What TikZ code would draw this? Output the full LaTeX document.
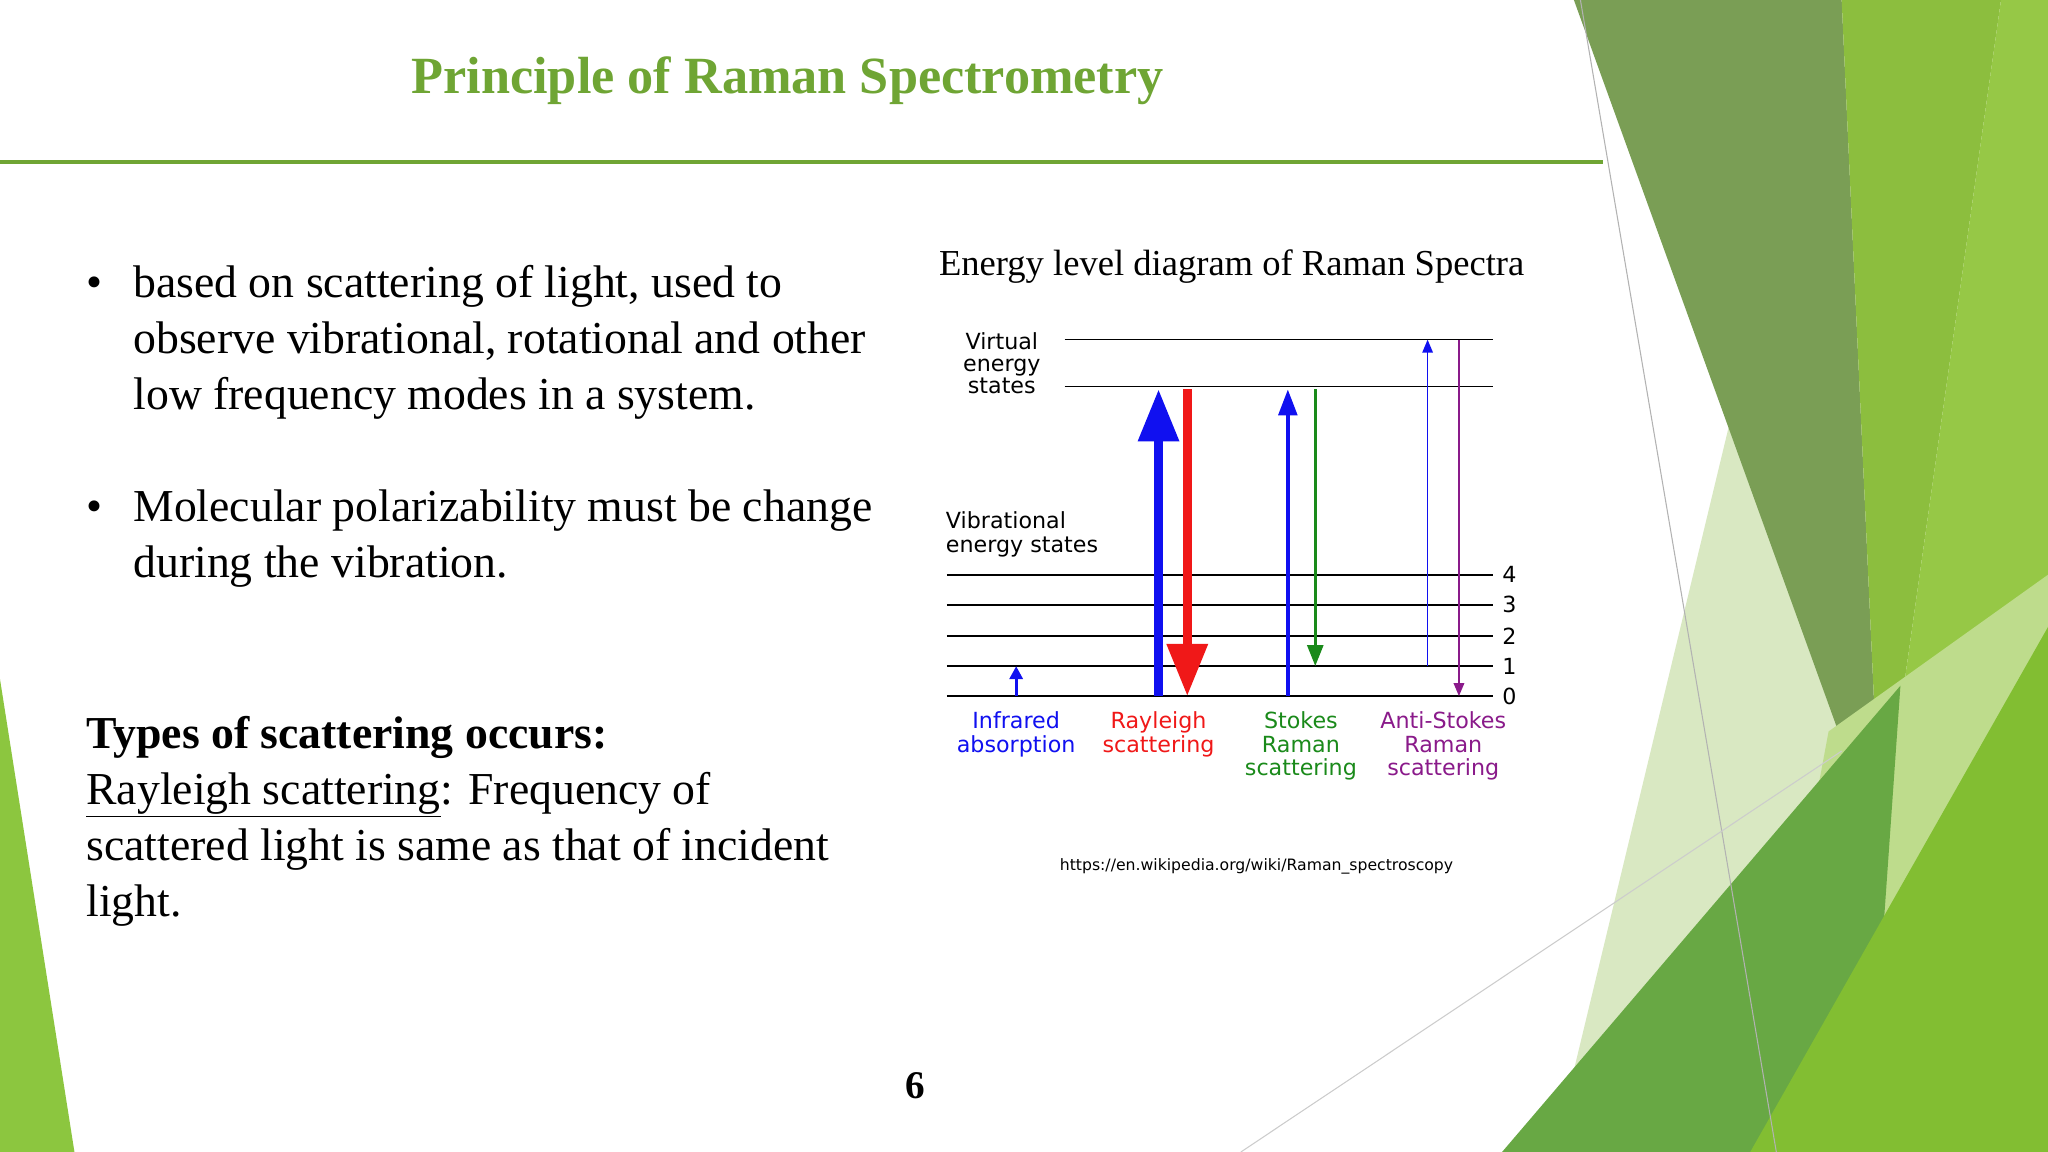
\documentclass[tikz,border=0pt]{standalone}
\usepackage{fontspec}
\setmainfont{Liberation Serif}
\newfontfamily\djfont{DejaVu Sans}
\usetikzlibrary{arrows.meta}
\definecolor{tgreen}{HTML}{6FA534}
\definecolor{sgreen}{HTML}{1A8A1A}
\definecolor{apurple}{HTML}{8A1A8A}
\definecolor{ablue}{HTML}{1010F0}
\definecolor{ared}{HTML}{F01818}
\definecolor{gpale}{RGB}{217,232,194}
\definecolor{golive}{RGB}{122,158,85}
\definecolor{gbright}{RGB}{140,190,62}
\definecolor{gright}{RGB}{150,200,70}
\definecolor{glight}{RGB}{190,220,140}
\definecolor{gmid}{RGB}{104,168,68}
\definecolor{gbot}{RGB}{130,190,50}
\definecolor{gleft}{RGB}{140,198,63}
\tikzset{
  lvl/.style={line width=1.3pt,black},
  lab/.style={font=\djfont\fontsize{17}{18}\selectfont,align=center,inner sep=0pt},
  body/.style={font=\fontsize{35}{43}\selectfont,align=flush left,anchor=north west,inner sep=0pt,text width=#1},
}
\begin{document}
\begin{tikzpicture}[x=1pt,y=-1pt]
\useasboundingbox (0,0) rectangle (1568,882);
\fill[white] (0,0) rectangle (1568,882);
% decoration
\fill[gpale] (1330,300) -- (1440,650) -- (1200,840) -- cycle;
\fill[golive] (1205,0) -- (1410,0) -- (1440,650) -- cycle;
\fill[gbright] (1410,0) -- (1532,0) -- (1440,650) -- cycle;
\fill[gright] (1532,0) -- (1568,0) -- (1568,460) -- (1440,650) -- cycle;
\fill[glight] (1400,560) -- (1568,440) -- (1568,600) -- (1420,882) -- (1340,882) -- cycle;
\fill[gmid] (1150,882) -- (1455,525) -- (1430,882) -- cycle;
\fill[gbot] (1340,882) -- (1568,480) -- (1568,882) -- cycle;
\fill[gleft] (0,520) -- (57,882) -- (0,882) -- cycle;
\draw[gray!60,line width=0.8pt] (1210,0) -- (1360,882);
\draw[gray!40,line width=0.8pt] (950,882) -- (1410,575);
% title
\node[font=\bfseries\fontsize{40}{44}\selectfont,text=tgreen] (title) at (603,62) {Principle of Raman Spectrometry};
\draw[tgreen,line width=3pt] (0,124) -- (1227,124);
% body
\node[body=660pt] (b1) at (66,203) {\makebox[36pt][l]{•}based on scattering of light, used to\\\hspace*{36pt}observe vibrational, rotational and other\\\hspace*{36pt}low frequency modes in a system.};
\node[body=660pt] (b2) at (66,375) {\makebox[36pt][l]{•}Molecular polarizability must be change\\\hspace*{36pt}during the vibration.};
\node[body=640pt] (b3) at (66,548) {\textbf{Types of scattering occurs:}\\\underline{Rayleigh scattering}: Frequency of\\scattered light is same as that of incident\\light.};
\node[font=\bfseries\fontsize{30}{32}\selectfont] (pg) at (701,831) {6};
% diagram
\node[font=\fontsize{28}{30}\selectfont] (dt) at (943,204) {Energy level diagram of Raman Spectra};
\draw[lvl] (815,260) -- (1143,260);
\draw[lvl] (815,296) -- (1143,296);
\foreach \y/\n in {440/4,463/3,487/2,510/1,533/0}{
  \draw[lvl] (725,\y) -- (1143,\y);
  \node[lab,anchor=west] (n\n) at (1150,\y) {\n};
}
\node[lab] (ve) at (767,278) {Virtual\\[-1pt]energy\\[-1pt]states};
\node[lab,align=left,anchor=west] (vs) at (724,409) {Vibrational\\energy states};
\coordinate (ir0) at (778,533); \coordinate (ir1) at (778,510);
\draw[ablue,line width=2.5pt,-{Triangle[length=10pt,width=10pt]}] (ir0) -- (ir1);
\coordinate (ry0) at (887,533); \coordinate (ry1) at (887,298);
\draw[ablue,line width=7pt,-{Triangle[length=40pt,width=30pt]}] (ry0) -- (ry1);
\coordinate (rr0) at (909,298); \coordinate (rr1) at (909,533);
\draw[ared,line width=7pt,-{Triangle[length=40pt,width=30pt]}] (rr0) -- (rr1);
\coordinate (sb0) at (986,533); \coordinate (sb1) at (986,298);
\draw[ablue,line width=3.5pt,-{Triangle[length=20pt,width=14pt]}] (sb0) -- (sb1);
\coordinate (sg0) at (1007,298); \coordinate (sg1) at (1007,510);
\draw[sgreen,line width=2.5pt,-{Triangle[length=16pt,width=12pt]}] (sg0) -- (sg1);
\coordinate (ab0) at (1093,510); \coordinate (ab1) at (1093,260);
\draw[ablue,line width=1.2pt,-{Triangle[length=10pt,width=8pt]}] (ab0) -- (ab1);
\coordinate (ap0) at (1117,260); \coordinate (ap1) at (1117,533);
\draw[apurple,line width=1.5pt,-{Triangle[length=10pt,width=8pt]}] (ap0) -- (ap1);
\node[lab,text=ablue,anchor=north] (l1) at (778,545) {Infrared\\absorption};
\node[lab,text=ared,anchor=north] (l2) at (887,545) {Rayleigh\\scattering};
\node[lab,text=sgreen,anchor=north] (l3) at (996,545) {Stokes\\Raman\\scattering};
\node[lab,text=apurple,anchor=north] (l4) at (1105,545) {Anti-Stokes\\Raman\\scattering};
\node[font=\djfont\fontsize{12}{13}\selectfont] (url) at (962,663) {https://en.wikipedia.org/wiki/Raman\_spectroscopy};
\end{tikzpicture}
\end{document}
